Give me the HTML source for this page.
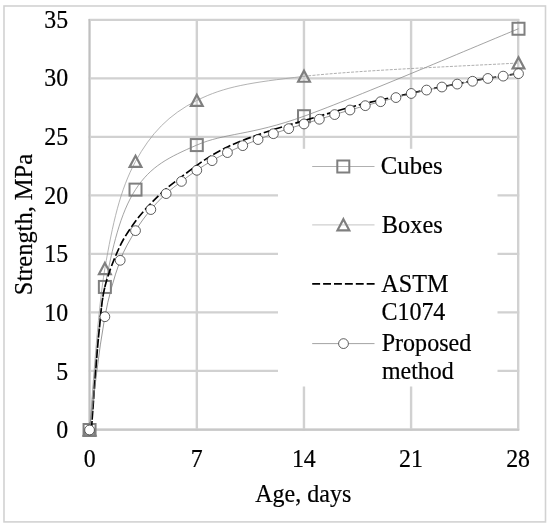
<!DOCTYPE html>
<html><head><meta charset="utf-8"><title>Strength vs Age</title>
<style>
html,body{margin:0;padding:0;background:#fff;}
body{width:550px;height:528px;overflow:hidden;}
svg{display:block;}
text{font-family:"Liberation Serif","DejaVu Serif",serif;fill:#000;}
</style></head><body>
<svg width="550" height="528" viewBox="0 0 550 528">
<rect x="0" y="0" width="550" height="528" fill="#fff"/>
<rect x="4" y="6" width="541.5" height="515.9" fill="none" stroke="#d2d2d2" stroke-width="1.6"/>

<g stroke="#d1d1d1" stroke-width="2.1" fill="none">
<line x1="88.70" y1="429.40" x2="519.20" y2="429.40"/>
<line x1="88.70" y1="370.90" x2="519.20" y2="370.90"/>
<line x1="88.70" y1="312.40" x2="519.20" y2="312.40"/>
<line x1="88.70" y1="253.90" x2="519.20" y2="253.90"/>
<line x1="88.70" y1="195.40" x2="519.20" y2="195.40"/>
<line x1="88.70" y1="136.90" x2="519.20" y2="136.90"/>
<line x1="88.70" y1="78.40" x2="519.20" y2="78.40"/>
<line x1="88.70" y1="19.90" x2="519.20" y2="19.90"/>
</g><g stroke="#d1d1d1" stroke-width="2.4" fill="none">
<line x1="89.70" y1="19.00" x2="89.70" y2="430.30"/>
<line x1="196.83" y1="19.00" x2="196.83" y2="430.30"/>
<line x1="303.95" y1="19.00" x2="303.95" y2="430.30"/>
<line x1="411.08" y1="19.00" x2="411.08" y2="430.30"/>
<line x1="518.20" y1="19.00" x2="518.20" y2="430.30"/>
</g>
<line x1="89.2" y1="19" x2="89.2" y2="430.4" stroke="#b4b4b4" stroke-width="0.9"/>
<line x1="88.7" y1="430.1" x2="519.2" y2="430.1" stroke="#b8b8b8" stroke-width="0.9"/>
<rect x="278" y="148.8" width="219.5" height="237.7" fill="#fff"/>
<path d="M89.55 430.00 C92.10 406.16 97.21 327.01 104.87 286.95 C112.53 246.88 120.19 213.27 135.51 189.62 C150.83 165.98 168.70 157.30 196.79 145.07 C224.87 132.83 250.41 135.61 304.02 116.22 C357.64 96.83 482.75 43.33 518.50 28.75" fill="none" stroke="#8c8c8c" stroke-width="0.8"/>
<path d="M89.55 430.00 C92.10 403.11 97.21 313.41 104.87 268.65 C112.53 223.90 120.19 189.51 135.51 161.48 C150.83 133.46 168.70 114.70 196.79 100.51 C224.87 86.32 250.41 82.61 304.02 76.35" fill="none" stroke="#a0a0a0" stroke-width="0.8"/>
<path d="M304.02 76.35 C357.64 70.10 482.75 65.21 518.50 62.99" fill="none" stroke="#9a9a9a" stroke-width="0.8" stroke-dasharray="3 1.3"/>
<g fill="none" stroke="#7f7f7f" stroke-width="2">
<rect x="83.55" y="424.00" width="12" height="12"/>
<rect x="98.87" y="280.95" width="12" height="12"/>
<rect x="129.51" y="183.62" width="12" height="12"/>
<rect x="190.79" y="139.07" width="12" height="12"/>
<rect x="298.02" y="110.22" width="12" height="12"/>
<rect x="512.50" y="22.75" width="12" height="12"/>
</g>
<g fill="none" stroke="#7f7f7f" stroke-width="2.2" stroke-linejoin="miter">
<path d="M89.55 424.30 L95.45 435.40 L83.65 435.40 Z"/>
<path d="M104.87 262.95 L110.77 274.05 L98.97 274.05 Z"/>
<path d="M135.51 155.78 L141.41 166.88 L129.61 166.88 Z"/>
<path d="M196.79 94.81 L202.69 105.91 L190.89 105.91 Z"/>
<path d="M304.02 70.65 L309.92 81.75 L298.12 81.75 Z"/>
<path d="M518.50 57.29 L524.40 68.39 L512.60 68.39 Z"/>
</g>
<path d="M91.39 430.00 C92.82 410.46 94.15 390.91 95.68 371.37 C96.75 357.68 97.72 343.98 99.20 330.33 C100.78 315.84 101.38 301.01 104.87 286.95" fill="none" stroke="#000" stroke-width="1.65" stroke-dasharray="9 1.3"/>
<path d="M104.87 286.95 C108.38 272.79 114.02 258.90 120.19 245.67 C124.23 237.02 129.88 229.03 135.51 221.28 C140.10 214.96 145.46 209.15 150.83 203.46 C155.67 198.32 160.82 193.43 166.15 188.80 C171.03 184.56 176.32 180.78 181.47 176.84 C186.54 172.96 191.58 169.04 196.79 165.35 C201.79 161.81 206.85 158.31 212.11 155.15 C217.07 152.17 222.21 149.46 227.43 146.94 C232.43 144.53 237.59 142.43 242.75 140.37 C247.80 138.36 252.94 136.55 258.07 134.75 C263.15 132.96 268.25 131.22 273.39 129.59 C278.46 127.97 283.59 126.50 288.71 125.01 C293.80 123.53 298.93 122.16 304.02 120.68 C309.14 119.19 314.23 117.61 319.34 116.10 C324.45 114.60 329.55 113.11 334.66 111.65 C339.77 110.18 344.86 108.70 349.98 107.31 C355.08 105.92 360.17 104.56 365.30 103.32 C370.39 102.10 375.51 101.04 380.62 99.92 C385.73 98.81 390.84 97.75 395.94 96.64 C401.05 95.52 406.16 94.37 411.26 93.24 C416.37 92.10 421.46 90.91 426.58 89.84 C431.68 88.76 436.79 87.79 441.90 86.79 C447.00 85.79 452.11 84.82 457.22 83.86 C462.32 82.90 467.43 81.98 472.54 81.04 C477.65 80.10 482.74 79.09 487.86 78.23 C492.95 77.37 498.08 76.68 503.18 75.88 C508.29 75.08 513.39 74.24 518.50 73.42" fill="none" stroke="#000" stroke-width="1.65" stroke-dasharray="8.2 2.8"/>
<path d="M89.55 430.00 C94.66 392.24 98.11 354.15 104.87 316.73 C108.32 297.59 113.69 278.59 120.19 260.33 C123.90 249.90 129.77 240.16 135.51 230.66 C139.99 223.24 145.30 216.24 150.83 209.56 C155.51 203.89 160.73 198.58 166.15 193.61 C170.94 189.20 176.28 185.37 181.47 181.41 C186.49 177.59 191.56 173.81 196.79 170.28 C201.78 166.90 206.89 163.67 212.11 160.66 C217.10 157.77 222.24 155.11 227.43 152.57 C232.46 150.11 237.59 147.84 242.75 145.65 C247.80 143.50 252.95 141.55 258.07 139.55 C263.16 137.57 268.24 135.52 273.39 133.69 C278.45 131.89 283.58 130.28 288.71 128.65 C293.79 127.03 298.92 125.52 304.02 123.96 C309.13 122.40 314.24 120.83 319.34 119.27 C324.45 117.71 329.55 116.12 334.66 114.58 C339.77 113.04 344.87 111.49 349.98 110.01 C355.08 108.52 360.18 107.06 365.30 105.67 C370.40 104.28 375.52 103.03 380.62 101.68 C385.73 100.33 390.84 98.94 395.94 97.58 C401.05 96.21 406.13 94.73 411.26 93.47 C416.34 92.23 421.46 91.15 426.58 90.07 C431.68 89.00 436.79 88.02 441.90 87.02 C447.00 86.03 452.11 85.05 457.22 84.09 C462.32 83.13 467.43 82.22 472.54 81.28 C477.65 80.34 482.74 79.33 487.86 78.46 C492.95 77.61 498.08 76.92 503.18 76.12 C508.29 75.32 513.39 74.48 518.50 73.66" fill="none" stroke="#7f7f7f" stroke-width="0.8"/>
<g fill="#fff" stroke="#1a1a1a" stroke-width="0.7">
<circle cx="89.55" cy="430.00" r="4.9"/>
<circle cx="104.87" cy="316.73" r="4.9"/>
<circle cx="120.19" cy="260.33" r="4.9"/>
<circle cx="135.51" cy="230.66" r="4.9"/>
<circle cx="150.83" cy="209.56" r="4.9"/>
<circle cx="166.15" cy="193.61" r="4.9"/>
<circle cx="181.47" cy="181.41" r="4.9"/>
<circle cx="196.79" cy="170.28" r="4.9"/>
<circle cx="212.11" cy="160.66" r="4.9"/>
<circle cx="227.43" cy="152.57" r="4.9"/>
<circle cx="242.75" cy="145.65" r="4.9"/>
<circle cx="258.07" cy="139.55" r="4.9"/>
<circle cx="273.39" cy="133.69" r="4.9"/>
<circle cx="288.71" cy="128.65" r="4.9"/>
<circle cx="304.02" cy="123.96" r="4.9"/>
<circle cx="319.34" cy="119.27" r="4.9"/>
<circle cx="334.66" cy="114.58" r="4.9"/>
<circle cx="349.98" cy="110.01" r="4.9"/>
<circle cx="365.30" cy="105.67" r="4.9"/>
<circle cx="380.62" cy="101.68" r="4.9"/>
<circle cx="395.94" cy="97.58" r="4.9"/>
<circle cx="411.26" cy="93.47" r="4.9"/>
<circle cx="426.58" cy="90.07" r="4.9"/>
<circle cx="441.90" cy="87.02" r="4.9"/>
<circle cx="457.22" cy="84.09" r="4.9"/>
<circle cx="472.54" cy="81.28" r="4.9"/>
<circle cx="487.86" cy="78.46" r="4.9"/>
<circle cx="503.18" cy="76.12" r="4.9"/>
<circle cx="518.50" cy="73.66" r="4.9"/>
</g>
<line x1="312.2" y1="166.5" x2="374.5" y2="166.5" stroke="#9c9c9c" stroke-width="0.8"/>
<rect x="337.3" y="160.5" width="12" height="12" fill="none" stroke="#7f7f7f" stroke-width="2"/>
<line x1="312.2" y1="224.9" x2="374.5" y2="224.9" stroke="#b4b4b4" stroke-width="0.8"/>
<path d="M343.40 219.20 L349.30 230.30 L337.50 230.30 Z" fill="none" stroke="#7f7f7f" stroke-width="2.2"/>
<line x1="312.2" y1="283.8" x2="374.6" y2="283.8" stroke="#000" stroke-width="1.8" stroke-dasharray="7.9 3"/>
<line x1="312.2" y1="343.6" x2="374.5" y2="343.6" stroke="#8c8c8c" stroke-width="0.8"/>
<circle cx="343.5" cy="343.6" r="4.9" fill="#fff" stroke="#1a1a1a" stroke-width="0.7"/>
<g font-size="24.2" stroke="#000" stroke-width="0.2">
<text transform="translate(380.81 173.50) scale(1.0241 1.0450)">Cubes</text>
<text transform="translate(381.77 232.80) scale(1.0080 1.0450)">Boxes</text>
<text transform="translate(381.36 291.60) scale(1.0014 1.0450)">ASTM</text>
<text transform="translate(381.44 320.00) scale(0.9911 1.0450)">C1074</text>
<text transform="translate(381.68 351.00) scale(0.9949 1.0450)">Proposed</text>
<text transform="translate(381.92 379.00) scale(0.9906 1.0450)">method</text>
<text transform="translate(56.13 438.30) scale(0.9850 1.0850)">0</text>
<text transform="translate(56.13 379.61) scale(0.9850 1.0850)">5</text>
<text transform="translate(44.22 320.93) scale(0.9850 1.0850)">10</text>
<text transform="translate(44.22 262.24) scale(0.9850 1.0850)">15</text>
<text transform="translate(44.22 203.56) scale(0.9850 1.0850)">20</text>
<text transform="translate(44.22 144.87) scale(0.9850 1.0850)">25</text>
<text transform="translate(44.22 86.19) scale(0.9850 1.0850)">30</text>
<text transform="translate(44.22 27.50) scale(0.9850 1.0850)">35</text>
<text transform="translate(83.64 466.60) scale(0.9850 1.0850)">0</text>
<text transform="translate(190.77 466.60) scale(0.9850 1.0850)">7</text>
<text transform="translate(291.93 466.60) scale(0.9850 1.0850)">14</text>
<text transform="translate(399.06 466.60) scale(0.9850 1.0850)">21</text>
<text transform="translate(506.18 466.60) scale(0.9850 1.0850)">28</text>
<text transform="translate(255.26 501.80) scale(0.9926 1.0450)">Age, days</text>
<text transform="translate(31.6 295.19) rotate(-90) scale(1.0106 1.0450)">Strength, MPa</text>
</g>
</svg></body></html>
